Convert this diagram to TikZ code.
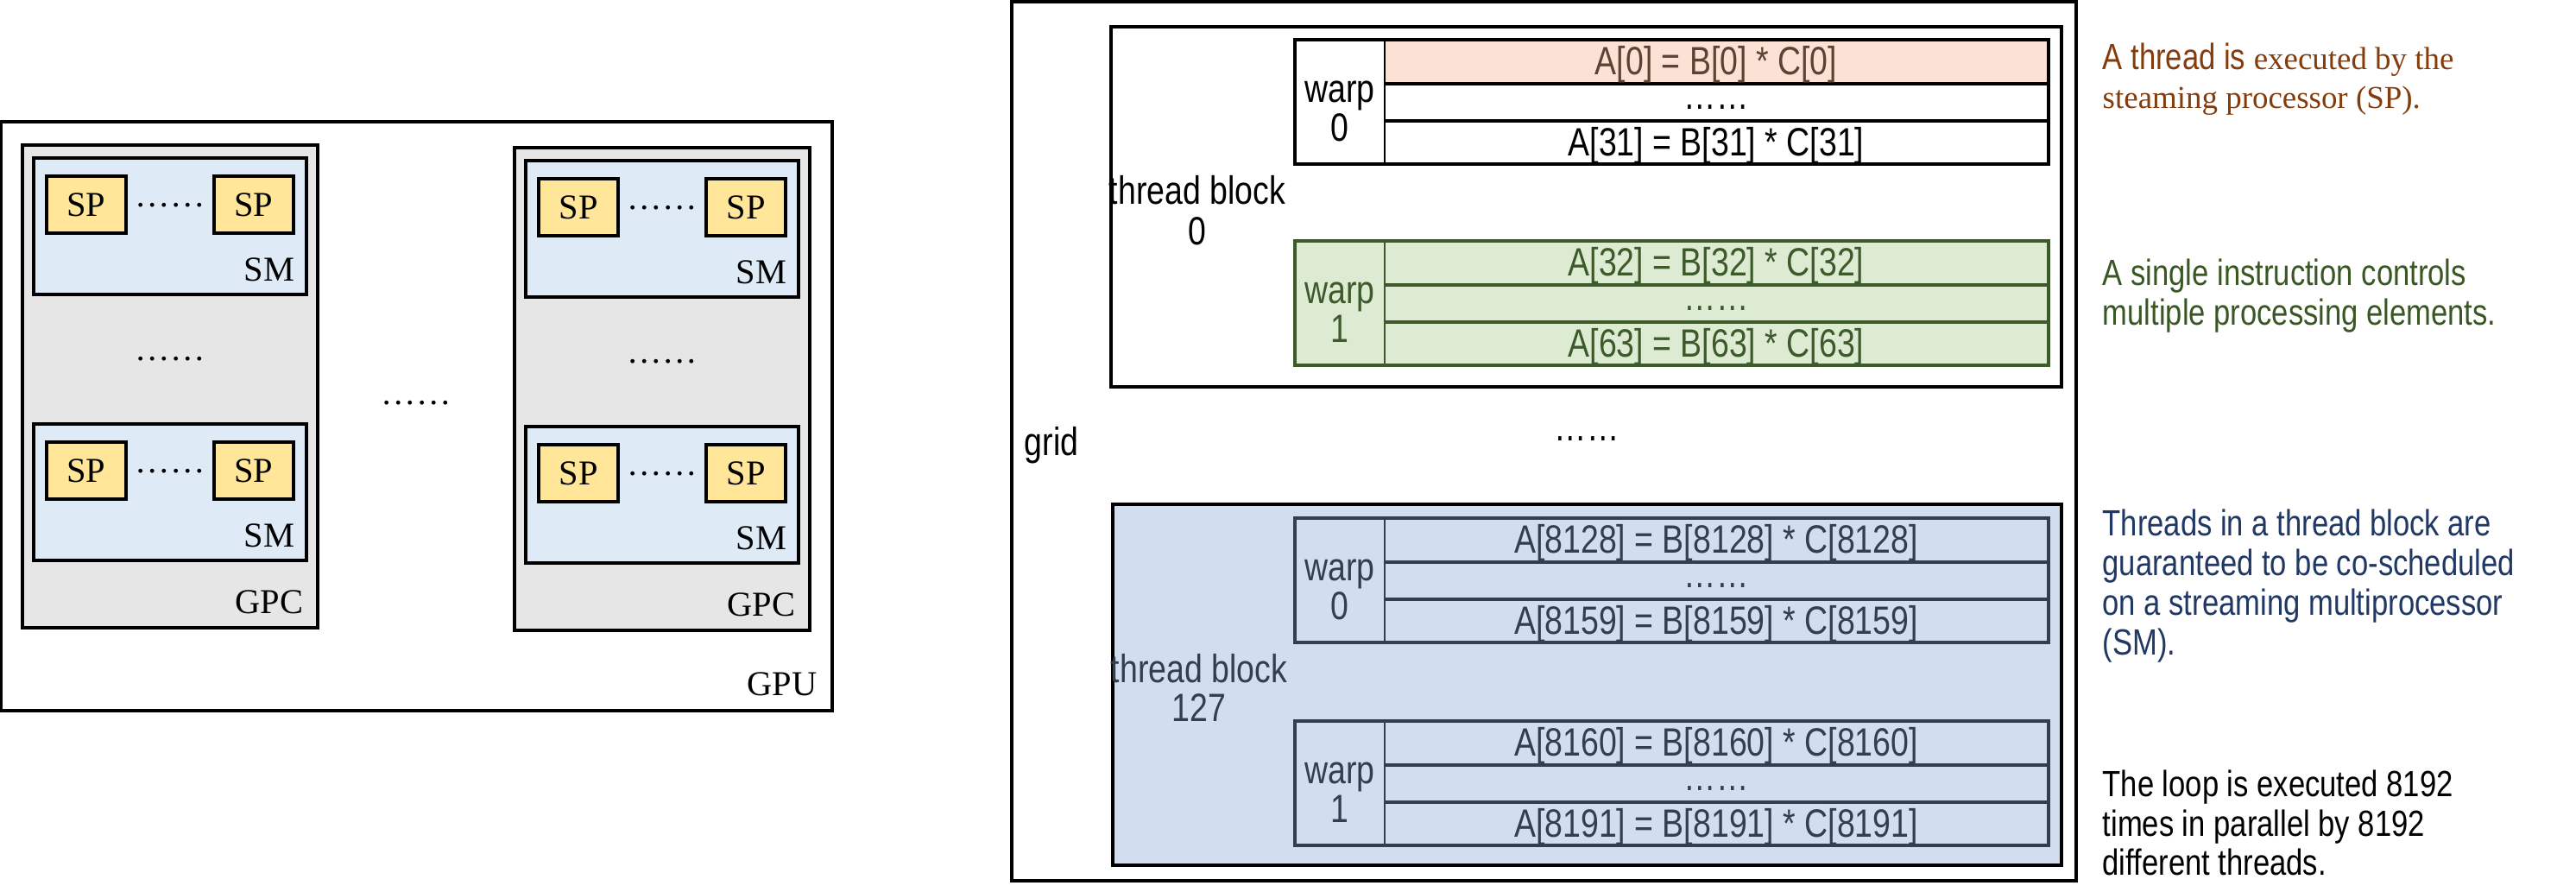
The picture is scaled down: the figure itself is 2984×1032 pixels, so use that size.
\documentclass[tikz,border=0pt]{standalone}
\usepackage{fontspec}
\setmainfont{Liberation Serif}
\newfontfamily\sansf{Liberation Sans}[FakeStretch=0.82]
\definecolor{spY}{HTML}{FFE699}
\definecolor{smB}{HTML}{DEEBF7}
\definecolor{gpcG}{HTML}{E7E6E6}
\definecolor{peach}{HTML}{FBE2D5}
\definecolor{lgreen}{HTML}{DDEBD3}
\definecolor{dgreen}{HTML}{3D5A2B}
\definecolor{lblue}{HTML}{D2DEF0}
\definecolor{dblue}{HTML}{333F50}
\definecolor{brownT}{HTML}{843C0C}
\definecolor{greenT}{HTML}{385723}
\definecolor{navyT}{HTML}{203864}
\definecolor{peachT}{HTML}{5B4433}
\tikzset{
  box/.style={line width=0.9pt},
  tms/.style={font=\fontsize{11.5}{13}\selectfont, inner sep=0pt},
  ss/.style={font=\sansf\fontsize{13}{15}\selectfont, inner sep=0pt},
  note/.style={font=\sansf\fontsize{12}{14}\selectfont, inner sep=0pt, anchor=base west},
}
\newcommand\smbox[2]{% #1 top y, #2 name
  \draw[box,fill=smB] (39,#1) rectangle (355,#1+158);
  \draw[box,fill=spY] (54,#1+21) rectangle (146,#1+87);
  \draw[box,fill=spY] (248,#1+21) rectangle (340,#1+87);
  \node[tms] (#2spa) at (100,#1+54) {SP};
  \node[tms] (#2spb) at (294,#1+54) {SP};
  \node[tms,anchor=base] (#2dots) at (197,#1+56) {……};
  \node[tms,anchor=base east] (#2lab) at (342,#1+142) {SM};
}
\newcommand\gpc[1]{% #1 name prefix
  \draw[box,fill=gpcG] (26,168) rectangle (368,727);
  \smbox{183}{#1a}
  \smbox{491}{#1b}
  \node[tms,anchor=base] (#1dots) at (197,417) {……};
  \node[tms,anchor=base east] (#1lab) at (352,710) {GPC};
}
% warp box: #1 top, #2 fill col, #3 line col, #4 text col, #5 number, #6 first row, #7 last row, #8 first-row fill, #9 name
\newcommand\warp[9]{%
  \draw[box,draw=#3,fill=#2] (1500,#1) rectangle (2373,#1+144);
  \fill[#8] (1604,#1) rectangle (2373,#1+51);
  \draw[box,draw=#3] (1500,#1) rectangle (2373,#1+144);
  \draw[draw=#3,line width=0.5pt] (1604,#1) -- (1604,#1+144);
  \draw[box,draw=#3] (1604,#1+51) -- (2373,#1+51);
  \draw[box,draw=#3] (1604,#1+94) -- (2373,#1+94);
  \node[ss,text=#4,anchor=base] (#9w) at (1552,#1+72) {warp};
  \node[ss,text=#4,anchor=base] (#9n) at (1552,#1+117) {#5};
  \node[ss,text=#4,anchor=base] (#9r1) at (1988,#1+40) {#6};
  \node[ss,text=#4,anchor=base] (#9r2) at (1988,#1+80) {……};
  \node[ss,text=#4,anchor=base] (#9r3) at (1988,#1+134) {#7};
}
\begin{document}
\begin{tikzpicture}[x=0.01cm,y=-0.01cm]
\useasboundingbox (0,0) rectangle (2984,1032);
% ---------- left: GPU ----------
\draw[box] (1,141) rectangle (964,823);
\gpc{L}
\begin{scope}[shift={(570,3)}]
\gpc{R}
\end{scope}
\node[tms,anchor=base] (mdots) at (482,468) {……};
\node[tms,anchor=base east] (gpulab) at (947,805) {GPU};
% ---------- right: grid ----------
\draw[box] (1172,2) rectangle (2405,1020);
\node[ss,anchor=base west] (gridlab) at (1186,527) {grid};
\draw[box] (1287,31) rectangle (2388,448);
\node[ss,anchor=base] (tb0a) at (1387,236) {thread block};
\node[ss,anchor=base] (tb0b) at (1387,283) {0};
\warp{46}{white}{black}{black}{0}{\textcolor{peachT}{A[0] = B[0] * C[0]}}{A[31] = B[31] * C[31]}{peach}{wa}
\warp{279}{lgreen}{dgreen}{dgreen}{1}{A[32] = B[32] * C[32]}{A[63] = B[63] * C[63]}{lgreen}{wb}
\node[ss,anchor=base] (gdots) at (1838,510) {……};
\draw[box,draw=black,fill=lblue] (1289,584) rectangle (2388,1002);
\node[ss,anchor=base,text=dblue] (tbna) at (1389,790) {thread block};
\node[ss,anchor=base,text=dblue] (tbnb) at (1389,835) {127};
\warp{600}{lblue}{dblue}{dblue}{0}{A[8128] = B[8128] * C[8128]}{A[8159] = B[8159] * C[8159]}{lblue}{wc}
\warp{835}{lblue}{dblue}{dblue}{1}{A[8160] = B[8160] * C[8160]}{A[8191] = B[8191] * C[8191]}{lblue}{wd}
% ---------- notes ----------
\node[note,text=brownT] (n1a) at (2435,80) {A thread is \rmfamily\fontsize{10.5}{13}\selectfont executed by the};
\node[note,text=brownT,font=\fontsize{10.5}{13}\selectfont] (n1b) at (2435,125) {steaming processor (SP).};
\node[note,text=greenT] (n2a) at (2435,330) {A single instruction controls};
\node[note,text=greenT] (n2b) at (2435,376) {multiple processing elements.};
\node[note,text=navyT] (n3a) at (2435,620) {Threads in a thread block are};
\node[note,text=navyT] (n3b) at (2435,666) {guaranteed to be co-scheduled};
\node[note,text=navyT] (n3c) at (2435,712) {on a streaming multiprocessor};
\node[note,text=navyT] (n3d) at (2435,758) {(SM).};
\node[note] (n4a) at (2435,922) {The loop is executed 8192};
\node[note] (n4b) at (2435,968) {times in parallel by 8192};
\node[note] (n4c) at (2435,1013) {different threads.};
\end{tikzpicture}
\end{document}
